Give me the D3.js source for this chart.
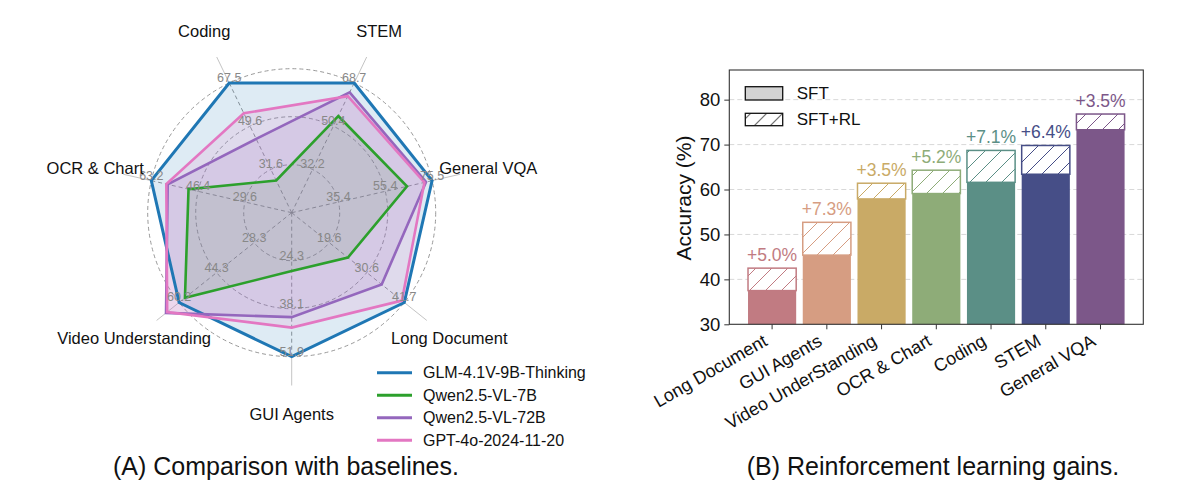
<!DOCTYPE html>
<html>
<head>
<meta charset="utf-8">
<script src="https://cdn.jsdelivr.net/npm/d3@7"></script>
<style>
    body { margin: 0; background: #fff; }
    svg { display: block; font-family: "Liberation Sans", Arial, sans-serif; }
</style>
</head>
<body>
<svg id="chart" width="1200" height="496"></svg>
<script>

// DATA ========================================================================

var axes = ['STEM', 'General VQA', 'Long Document', 'GUI Agents',
            'Video Understanding', 'OCR & Chart', 'Coding'];

// ring labels per axis (inner, middle, outer)
var ringLabels = [
    ['32.2', '50.4', '68.7'],
    ['35.4', '55.4', '75.5'],
    ['19.6', '30.6', '41.7'],
    ['24.3', '38.1', '51.9'],
    ['28.3', '44.3', '60.2'],
    ['29.6', '46.4', '63.2'],
    ['31.6', '49.6', '67.5']
];

var models = ['GLM-4.1V-9B-Thinking', 'Qwen2.5-VL-7B', 'Qwen2.5-VL-72B', 'GPT-4o-2024-11-20'];
var glmScores = [68.7, 75.5, 41.7, 51.9, 60.2, 63.2, 67.5];
var qwen7bScores = [54.7, 64.7, 25.0, 27.2, 57.7, 49.8, 26.9];
var qwen72bScores = [64.7, 72.9, 35.0, 40.5, 65.8, 57.3, 44.2];
var gpt4oScores = [63.1, 72.2, 41.0, 43.5, 65.3, 57.8, 54.9];
var modelColors = ['#1f77b4', '#2ca02c', '#9467bd', '#e377c2'];

var tasks = ['Long Document', 'GUI Agents', 'Video UnderStanding', 'OCR & Chart',
             'Coding', 'STEM', 'General VQA'];
var sftScores = [37.5, 45.4, 57.9, 59.1, 61.6, 63.4, 73.3];
var rlScores = [42.5, 52.7, 61.4, 64.3, 68.7, 69.8, 76.8];
var gainLabels = ['+5.0%', '+7.3%', '+3.5%', '+5.2%', '+7.1%', '+6.4%', '+3.5%'];
var taskColors = ['#c17b82', '#d69d82', '#c9aa66', '#8eac78', '#5b8f86', '#464e87', '#7c5789'];
var yTicks = [30, 40, 50, 60, 70, 80];


var svg = d3.select('#chart');
svg.append('rect').attr('width', 1200).attr('height', 496).attr('fill', '#fff');


// RADAR =======================================================================

var cx = 291.7, cy = 212.7, R = 144,
    startAngle = 180 - 3 * 360 / axes.length;

var radar = svg.append('g').attr('transform', 'translate(' + cx + ',' + cy + ')');

var angle = d3.scaleLinear()
    .domain([0, axes.length])
    .range([startAngle * Math.PI / 180, (startAngle + 360) * Math.PI / 180]);

// one radial scale per axis, outer ring = outer label
var rScales = ringLabels.map(function(l) {
    var max = +l[2];
    return d3.scaleLinear().domain([0.2 * max, max]).range([0, R]);
});

function pt(i, r) {
    var a = angle(i);
    return [Math.sin(a) * r, -Math.cos(a) * r];
}

// rings
[1, 2, 3].forEach(function(k) {
    radar.append('circle')
        .attr('r', R * k / 3)
        .attr('fill', 'none')
        .attr('stroke', '#999')
        .attr('stroke-width', 1)
        .attr('stroke-dasharray', '4,3');
});

// spokes
axes.forEach(function(name, i) {
    var p0 = pt(i, R), p1 = pt(i, R * 1.2);
    radar.append('line')
        .attr('x1', 0).attr('y1', 0).attr('x2', p0[0]).attr('y2', p0[1])
        .attr('stroke', '#888').attr('stroke-width', 0.9)
        .attr('stroke-dasharray', '4,3');
    radar.append('line')
        .attr('x1', p0[0]).attr('y1', p0[1]).attr('x2', p1[0]).attr('y2', p1[1])
        .attr('stroke', '#c4c4c4').attr('stroke-width', 1);
});

var line = d3.lineRadial()
    .angle(function(d, i) { return angle(i); })
    .radius(function(d, i) { return rScales[i](d); })
    .curve(d3.curveLinearClosed);

var series = [glmScores, qwen7bScores, qwen72bScores, gpt4oScores];

radar.selectAll('.area')
    .data(series)
    .enter().append('path')
        .attr('class', 'area')
        .attr('d', line)
        .attr('fill', function(d, i) { return modelColors[i]; })
        .attr('fill-opacity', 0.15)
        .attr('stroke', 'none');

radar.selectAll('.outline')
    .data(series)
    .enter().append('path')
        .attr('class', 'outline')
        .attr('d', line)
        .attr('fill', 'none')
        .attr('stroke', function(d, i) { return modelColors[i]; })
        .attr('stroke-width', function(d, i) { return i === 0 ? 3 : 2.6; })
        .attr('stroke-linejoin', 'miter');

// ring value labels + axis names
axes.forEach(function(name, i) {
    ringLabels[i].forEach(function(txt, k) {
        var p = pt(i, R * (k + 1) / 3);
        radar.append('text')
            .attr('x', p[0]).attr('y', p[1] - 1)
            .attr('text-anchor', 'middle')
            .attr('font-size', 12.5)
            .attr('fill', '#888')
            .text(txt);
    });
    var lp = pt(i, R * 1.4);
    radar.append('text')
        .attr('x', lp[0]).attr('y', lp[1])
        .attr('text-anchor', 'middle')
        .attr('dominant-baseline', 'central')
        .attr('font-size', 16.5)
        .attr('fill', '#111')
        .text(name);
});

// legend
var lg = svg.append('g').attr('transform', 'translate(377,372.7)');
models.forEach(function(m, i) {
    lg.append('line')
        .attr('x1', 0).attr('x2', 35)
        .attr('y1', i * 22.5).attr('y2', i * 22.5)
        .attr('stroke', modelColors[i]).attr('stroke-width', 3);
    lg.append('text')
        .attr('x', 46).attr('y', i * 22.5)
        .attr('dominant-baseline', 'central')
        .attr('font-size', 16)
        .attr('fill', '#111')
        .text(m);
});

svg.append('text')
    .attr('x', 286).attr('y', 475)
    .attr('text-anchor', 'middle')
    .attr('font-size', 25)
    .attr('fill', '#111')
    .text('(A) Comparison with baselines.');


// BARS ========================================================================

var bx0 = 729.3, bx1 = 1143.3, by0 = 70, by1 = 324.3;

var x = d3.scaleBand()
    .domain(tasks)
    .range([bx0, bx1])
    .paddingInner(0.12)
    .paddingOuter(0.342);

var y = d3.scaleLinear().domain([30, 86.6]).range([by1, by0]);

var defs = svg.append('defs');
function hatch(id, color) {
    var p = defs.append('pattern')
        .attr('id', id)
        .attr('patternUnits', 'userSpaceOnUse')
        .attr('width', 16).attr('height', 16);
    p.append('rect').attr('width', 16).attr('height', 16).attr('fill', '#fff');
    p.append('path')
        .attr('d', 'M0,16L16,0M-4,4L4,-4M12,20L20,12')
        .attr('stroke', color).attr('stroke-width', 1);
}
taskColors.forEach(function(c, i) { hatch('hatch' + i, c); });
hatch('hatchLegend', '#111');

var bars = svg.append('g');

// grid
bars.selectAll('.grid')
    .data(yTicks.slice(1))
    .enter().append('line')
        .attr('x1', bx0).attr('x2', bx1)
        .attr('y1', function(d) { return y(d); })
        .attr('y2', function(d) { return y(d); })
        .attr('stroke', '#d8d8d8')
        .attr('stroke-width', 1)
        .attr('stroke-dasharray', '5,3');

// SFT+RL (hatched top part)
bars.selectAll('.rl')
    .data(tasks)
    .enter().append('rect')
        .attr('x', function(d) { return x(d); })
        .attr('width', x.bandwidth())
        .attr('y', function(d, i) { return y(rlScores[i]); })
        .attr('height', function(d, i) { return y(sftScores[i]) - y(rlScores[i]); })
        .attr('fill', function(d, i) { return 'url(#hatch' + i + ')'; })
        .attr('stroke', function(d, i) { return taskColors[i]; })
        .attr('stroke-width', 1.5);

// SFT
bars.selectAll('.sft')
    .data(tasks)
    .enter().append('rect')
        .attr('x', function(d) { return x(d); })
        .attr('width', x.bandwidth())
        .attr('y', function(d, i) { return y(sftScores[i]); })
        .attr('height', function(d, i) { return by1 - y(sftScores[i]); })
        .attr('fill', function(d, i) { return taskColors[i]; });

bars.selectAll('.gain')
    .data(tasks)
    .enter().append('text')
        .attr('x', function(d) { return x(d) + x.bandwidth() / 2; })
        .attr('y', function(d, i) { return y(rlScores[i]) - 7; })
        .attr('text-anchor', 'middle')
        .attr('font-size', 17.5)
        .attr('fill', function(d, i) { return taskColors[i]; })
        .text(function(d, i) { return gainLabels[i]; });

// frame
bars.append('rect')
    .attr('x', bx0).attr('y', by0)
    .attr('width', bx1 - bx0).attr('height', by1 - by0)
    .attr('fill', 'none')
    .attr('stroke', '#333')
    .attr('stroke-width', 1.1);

// axes
var yAxis = bars.append('g')
    .attr('transform', 'translate(' + bx0 + ',0)')
    .call(d3.axisLeft(y).tickValues(yTicks).tickSize(5).tickPadding(4));
yAxis.select('.domain').remove();
yAxis.selectAll('text').attr('font-size', 18.5).attr('fill', '#111')
    .attr('font-family', '"Liberation Sans", Arial, sans-serif');
yAxis.selectAll('line').attr('stroke', '#333');

var xAxis = bars.append('g')
    .attr('transform', 'translate(0,' + by1 + ')')
    .call(d3.axisBottom(x).tickSize(5));
xAxis.select('.domain').remove();
xAxis.selectAll('line').attr('stroke', '#333');
xAxis.selectAll('text').remove();

bars.selectAll('.xlabel')
    .data(tasks)
    .enter().append('text')
        .attr('transform', function(d) {
            return 'translate(' + (x(d) + x.bandwidth() / 2 - 10) + ',' + (by1 + 9) + ') rotate(-30)';
        })
        .attr('dy', '0.71em')
        .attr('text-anchor', 'end')
        .attr('font-size', 18)
        .attr('fill', '#111')
        .text(function(d) { return d; });

bars.append('text')
    .attr('transform', 'translate(683,198) rotate(-90)')
    .attr('text-anchor', 'middle')
    .attr('dominant-baseline', 'central')
    .attr('font-size', 21)
    .attr('fill', '#111')
    .text('Accuracy (%)');

// legend
var bl = bars.append('g').attr('transform', 'translate(745.3,86.7)');
bl.append('rect')
    .attr('width', 37.4).attr('height', 13.3)
    .attr('fill', '#d3d3d3').attr('stroke', '#111').attr('stroke-width', 1.3);
bl.append('rect')
    .attr('y', 26.6).attr('width', 37.4).attr('height', 12.4)
    .attr('fill', 'url(#hatchLegend)').attr('stroke', '#111').attr('stroke-width', 1.3);
bl.append('text')
    .attr('x', 51.4).attr('y', 6.7)
    .attr('dominant-baseline', 'central')
    .attr('font-size', 17).attr('fill', '#111')
    .text('SFT');
bl.append('text')
    .attr('x', 51.4).attr('y', 33)
    .attr('dominant-baseline', 'central')
    .attr('font-size', 17).attr('fill', '#111')
    .text('SFT+RL');

svg.append('text')
    .attr('x', 933).attr('y', 475)
    .attr('text-anchor', 'middle')
    .attr('font-size', 25)
    .attr('fill', '#111')
    .text('(B) Reinforcement learning gains.');

</script>
</body>
</html>
